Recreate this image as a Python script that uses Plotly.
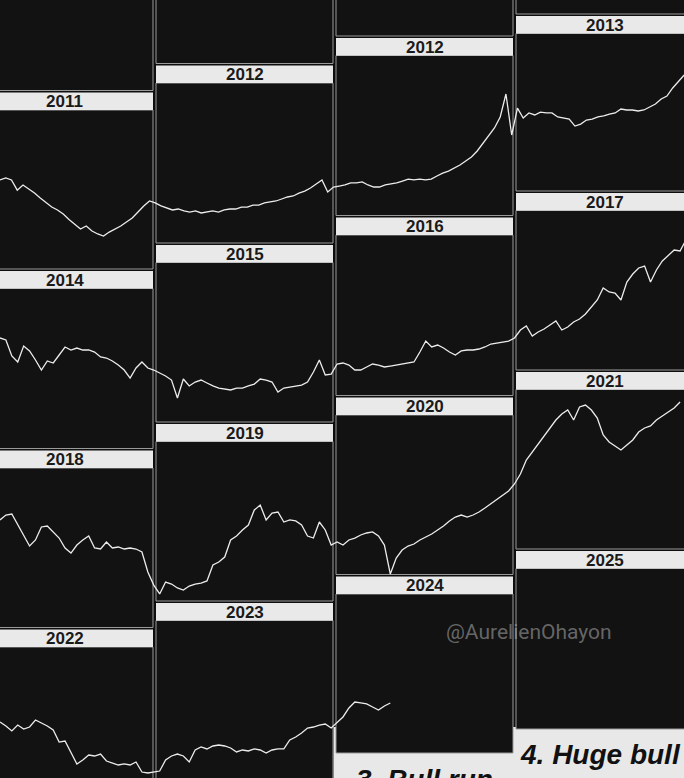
import math
import pandas as pd
import plotly.graph_objects as go

W, H = 684, 778

# ---------------- data: approximate BTC price (USD) ----------------
# one list per 4-year cycle row, sampled at a fixed step from the row's start date
row1_start, row1_step = "2011-07-27", 7     # days
row1_price = [
    13.2, 14.1, 13.2, 9.3, 11.1, 9.7, 8.4, 7.1, 6.0, 5.2,
    4.7, 4.1, 3.4, 2.9, 2.44, 2.71, 2.28, 2.06, 1.92, 2.2,
    2.44, 2.71, 3.1, 3.56, 4.38, 5.4, 6.4, 6.0, 5.4, 5.0,
    4.7, 4.86, 4.54, 4.38, 4.54, 4.24, 4.38, 4.54, 4.38, 4.7,
    4.86, 4.86, 5.2, 5.2, 5.57, 5.57, 6.0, 6.18, 6.4, 6.85,
    7.34, 7.6, 8.4, 9.0, 10.0, 11.5, 13.2, 8.7, 10.35, 10.7,
    11.1, 11.9, 11.9, 12.3, 11.1, 10.35, 10.35, 11.1, 11.5, 11.9,
    12.7, 13.6, 13.2, 13.6, 13.2, 13.6, 15.1, 16.7, 17.9, 19.9,
    22.0, 25.3, 29.0, 35.7, 47, 59.7, 78.7, 115, 253, 61.8,
    156, 111, 132, 123, 136, 132, 132, 115, 111, 107,
    84, 90, 103.5, 107, 115, 119, 127, 132, 151, 146,
    146, 141, 146, 162, 179, 213, 236, 311, 382, 486,
]
row2_start, row2_step = "2014-02-06", 12
row2_price = [
    890, 849, 584, 508, 738, 657, 532, 421, 520, 496,
    598, 721, 672, 704, 672, 672, 641, 571, 557, 520,
    473, 421, 349, 441, 508, 441, 421, 393, 366, 333,
    219, 341, 290, 318, 333, 311, 290, 276, 270, 264,
    276, 276, 290, 303, 341, 333, 318, 252, 276, 283,
    290, 296, 318, 402, 532, 375, 383, 484, 496, 473,
    421, 421, 452, 484, 473, 452, 462, 473, 484, 496,
    508, 641, 829, 721, 755, 704, 641, 598, 657, 672,
    672, 688, 721, 773, 791, 810, 829, 890, 1073, 1178,
    932, 1024, 1098, 1206, 1324, 1073, 1151, 1293, 1387, 1559,
    1837, 2163, 2863, 2608, 2548, 2163, 3294, 3972, 4571, 4786,
    3294, 4362, 5383, 6193, 6962, 6801, 8790,
]
row3_start, row3_step = "2018-01-13", 12
row3_price = [
    10270, 11140, 11330, 9450, 8020, 6690, 7390, 9150, 9300, 8430,
    7630, 6475, 5960, 6800, 7390, 7890, 6475, 6370, 7145, 6475,
    6585, 6370, 6475, 6370, 6060, 4365, 3520, 3040, 3700, 3580,
    3355, 3245, 3465, 3580, 3640, 3765, 4895, 5145, 5585, 7390,
    7890, 8710, 9450, 12100, 13130, 10270, 11510, 11705, 9930, 10270,
    10100, 9450, 7890, 7630, 9930, 8710, 6800, 7145, 6800, 7390,
    7630, 8020, 8290, 8430, 7890, 6800, 4220, 5495, 6265, 6690,
    6915, 7390, 7760, 8150, 8710, 9300, 10100, 10780, 11140, 10780,
    11140, 11705, 12500, 13360, 14260, 15240, 16530, 18560, 21870, 27530,
    31400, 35820, 40860, 46620, 53160, 58690, 62650, 53160, 65830, 68030,
    62650, 54940, 41540, 37030, 34660, 32460, 35250, 38270, 43640, 46620,
    48180, 53160, 56790, 60650, 64750, 71470,
]
row4_start, row4_step = "2022-01-11", 12
row4_price = [
    45120, 41550, 37510, 42400, 39060, 40700, 47000, 44180, 41550, 38260,
    29890, 30510, 24350, 19030, 20650, 22880, 22420, 23360, 20230, 19420,
    18630, 19030, 18630, 19820, 16130, 15810, 16130, 16460, 20650, 22420,
    23360, 22420, 19820, 25370, 26980, 25910, 27540, 28100, 27540, 26430,
    24350, 25370, 24860, 25910, 25370, 23850, 25370, 25910, 25910, 31160,
    33140, 35970, 39860, 40700, 42400, 43290, 39860, 45120, 50010, 60160,
    68050, 66690, 65330, 61400, 57720, 62690, 66690,
]

col_years = [
    ["2011", "2014", "2018", "2022"],
    ["2012", "2015", "2019", "2023"],
    ["2012", "2016", "2020", "2024"],
    ["2013", "2017", "2021", "2025"],
]
watermark = "@AurelienOhayon"
captions = ["3. Bull run", "4. Huge bull"]

# ---------------- per-row scale configuration (screen calibration) ----------------
rows = [
    dict(start=row1_start, step=row1_step, price=row1_price, px_year=300, a_price=10, a_y=188, px_dec=67),
    dict(start=row2_start, step=row2_step, price=row2_price, px_year=180, a_price=1000, a_y=333, px_dec=98.5),
    dict(start=row3_start, step=row3_step, price=row3_price, px_year=180, a_price=13800, a_y=502, px_dec=140),
    dict(start=row4_start, step=row4_step, price=row4_price, px_year=180, a_price=47000, a_y=720, px_dec=112),
]

fig = go.Figure()
for k, r in enumerate(rows, start=1):
    sfx = "" if k == 1 else str(k)
    dates = pd.date_range(r["start"], periods=len(r["price"]), freq=f'{r["step"]}D')
    fig.add_trace(go.Scatter(
        x=dates, y=r["price"], mode="lines",
        line=dict(color="#ececec", width=1.3),
        xaxis="x" + sfx, yaxis="y" + sfx, hoverinfo="skip", showlegend=False,
    ))
    t0 = pd.Timestamp(r["start"])
    t1 = t0 + pd.Timedelta(days=W / r["px_year"] * 365.25)
    lp = math.log10(r["a_price"])
    y_top = lp + r["a_y"] / r["px_dec"]
    y_bot = lp - (H - r["a_y"]) / r["px_dec"]
    xa = dict(domain=[0, 1], type="date", range=[str(t0), str(t1)], visible=False,
              fixedrange=True, anchor="y" + sfx)
    ya = dict(domain=[0, 1], type="log", range=[y_bot, y_top], visible=False,
              fixedrange=True, anchor="x" + sfx)
    if k > 1:
        xa["overlaying"] = "x"
        ya["overlaying"] = "y"
    fig.update_layout(**{"xaxis" + sfx: xa, "yaxis" + sfx: ya})

# ---------------- panel frames ----------------
col_left = [-24, 156, 336, 516]
panel_w = 177
header_h = 17.5
header_tops = [
    [-86.5, 92.5, 271, 450.5, 629.5],
    [-113.5, 65.5, 245, 424, 603],
    [-141.5, 38, 217.5, 397.5, 576.5],
    [-163, 16, 193, 372, 551],
]
last_bottom = [800, 800, 753, 729]

shapes = []
annotations = []


def rect(x0, y0, x1, y1, fill, lw=0, lc="rgba(0,0,0,0)"):
    shapes.append(dict(type="rect", xref="paper", yref="paper",
                       x0=x0 / W, x1=x1 / W, y0=1 - y1 / H, y1=1 - y0 / H,
                       fillcolor=fill, line=dict(width=lw, color=lc), layer="below"))


# light caption strip below the last panels
rect(333.5, 727, 700, 800, "#e8e8e8")

for c in range(4):
    tops = header_tops[c]
    left = col_left[c]
    right = left + panel_w
    for j, top in enumerate(tops):
        bottom = tops[j + 1] - 2 if j + 1 < len(tops) else last_bottom[c]
        rect(left, top + header_h, right, bottom, "#121212", 1, "#9a9a9a")
        rect(left, top, right, top + header_h, "#e9e9e9")
        if j >= 1:
            annotations.append(dict(
                text=col_years[c][j - 1], xref="paper", yref="paper",
                x=(left + panel_w / 2) / W, y=1 - (top + header_h / 2 + 0.5) / H,
                xanchor="center", yanchor="middle", showarrow=False,
                font=dict(family="Liberation Sans", size=17, color="#1a1a1a", weight="bold"),
            ))

annotations.append(dict(
    text=watermark, xref="paper", yref="paper", x=529 / W, y=1 - 632 / H,
    xanchor="center", yanchor="middle", showarrow=False,
    font=dict(family="Roboto", size=21, color="rgba(175,175,175,0.55)"),
))
annotations.append(dict(
    text=captions[1], xref="paper", yref="paper", x=518 / W, y=1 - 754 / H,
    xanchor="left", yanchor="middle", showarrow=False,
    font=dict(family="Liberation Sans", size=28, color="#111111", weight="bold", style="italic"),
))
annotations.append(dict(
    text=captions[0], xref="paper", yref="paper", x=354 / W, y=1 - 779 / H,
    xanchor="left", yanchor="middle", showarrow=False,
    font=dict(family="Liberation Sans", size=28, color="#111111", weight="bold", style="italic"),
))

fig.update_layout(
    width=W, height=H, autosize=False,
    margin=dict(l=0, r=0, t=0, b=0, pad=0),
    paper_bgcolor="#0e0e0e", plot_bgcolor="rgba(0,0,0,0)",
    shapes=shapes, annotations=annotations, showlegend=False,
)

fig.write_html(
    "out.html",
    config={"displayModeBar": False, "staticPlot": True},
    post_script="document.body.style.margin='0';document.body.style.overflow='hidden';",
)
